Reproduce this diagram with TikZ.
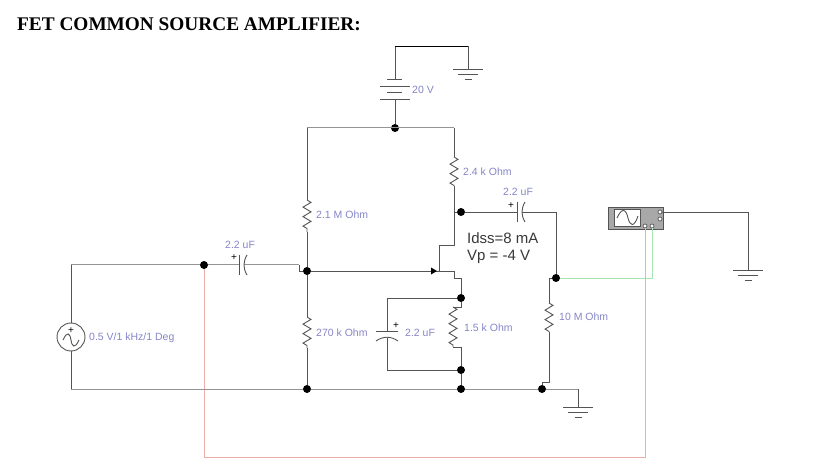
\documentclass[tikz,border=0pt]{standalone}
\usepackage{fontspec}
\setmainfont{Liberation Sans}
\newfontfamily\titlefont{Liberation Serif}
\usetikzlibrary{decorations.pathmorphing}
\definecolor{WireColor}{rgb}{0.33,0.33,0.33}
\definecolor{SoftColor}{rgb}{0.58,0.58,0.58}
\definecolor{LabelColor}{rgb}{0.52,0.52,0.78}
\definecolor{NoteColor}{rgb}{0.22,0.22,0.22}
\definecolor{ProbeRed}{rgb}{0.93,0.68,0.66}
\definecolor{ProbeGreen}{rgb}{0.66,0.90,0.70}
\definecolor{ScopeColor}{rgb}{0.66,0.66,0.66}
\tikzstyle{wire}=[draw=WireColor, line width=0.9pt]
\tikzstyle{softwire}=[draw=SoftColor, line width=1pt]
\tikzstyle{resistor}=[wire, decorate, decoration={zigzag, amplitude=4pt, segment length=9.5pt}]
\tikzstyle{dot}=[circle, fill=black, inner sep=0pt, minimum size=8pt]
\tikzstyle{port}=[circle, draw=WireColor, fill=white, inner sep=0pt, minimum size=4pt, line width=0.7pt]
\tikzstyle{value}=[anchor=west, inner sep=0pt, text=LabelColor, font=\fontsize{10.5}{12}\selectfont]
\tikzstyle{note}=[anchor=west, inner sep=0pt, text=NoteColor, font=\fontsize{15}{17}\selectfont]
\tikzset{gnd/.pic={
    \draw[wire] (-15,0) -- (15,0);
    \draw[wire] (-10,5) -- (10,5);
    \draw[wire] (-3.5,10) -- (3.5,10);
}}

\begin{document}
\begin{tikzpicture}[x=1pt, y=-1pt]
    \useasboundingbox (0,0) rectangle (816,462);

    \node at (17,24) (title) [anchor=west, inner sep=0pt, font=\titlefont\bfseries\fontsize{19.3}{21}\selectfont] {FET COMMON SOURCE AMPLIFIER:};

    % junctions
    \node at (395, 128) (top)      [dot] {};
    \node at (204, 265) (inp)      [dot] {};
    \node at (307, 271) (gate)     [dot] {};
    \node at (307, 389) (gnd_a)    [dot] {};
    \node at (461, 212) (drain)    [dot] {};
    \node at (461, 298) (source)   [dot] {};
    \node at (461, 370) (bypass)   [dot] {};
    \node at (461, 389) (gnd_b)    [dot] {};
    \node at (542, 389) (gnd_c)    [dot] {};
    \node at (556, 278) (out)      [dot] {};

    % corners and ends
    \coordinate (bat_top)  at (395,  46);
    \coordinate (gnd_top)  at (468,  46);
    \coordinate (gnd_bat)  at (468,  69);
    \coordinate (bat_p)    at (395,  79);
    \coordinate (bat_n)    at (395,  99);
    \coordinate (rail_l)   at (307, 128);
    \coordinate (rail_r)   at (454, 128);
    \coordinate (rd_a)     at (454, 157);
    \coordinate (rd_b)     at (454, 186);
    \coordinate (rd_end)   at (454, 212);
    \coordinate (fet_d)    at (454, 245);
    \coordinate (fet_top)  at (439, 245);
    \coordinate (fet_bot)  at (439, 271);
    \coordinate (fet_s)    at (454, 271);
    \coordinate (fet_s2)   at (454, 278);
    \coordinate (fet_s3)   at (461, 278);
    \coordinate (r1_a)     at (307, 200);
    \coordinate (r1_b)     at (307, 232);
    \coordinate (r2_a)     at (307, 317);
    \coordinate (r2_b)     at (307, 348);
    \coordinate (rs_t)     at (461, 307);
    \coordinate (rs_a)     at (453, 307);
    \coordinate (rs_b)     at (453, 347);
    \coordinate (rs_e)     at (461, 347);
    \coordinate (cs_t)     at (387, 298);
    \coordinate (cs_a)     at (387, 331);
    \coordinate (cs_b)     at (387, 338);
    \coordinate (cs_e)     at (387, 370);
    \coordinate (ci_a)     at (239, 265);
    \coordinate (ci_b)     at (244, 265);
    \coordinate (in_jog)   at (299, 265);
    \coordinate (in_jog2)  at (299, 271);
    \coordinate (co_a)     at (517, 212);
    \coordinate (co_b)     at (522, 212);
    \coordinate (out_top)  at (556, 212);
    \coordinate (out_jog)  at (549, 278);
    \coordinate (rl_a)     at (549, 303);
    \coordinate (rl_b)     at (549, 332);
    \coordinate (rl_e)     at (549, 382);
    \coordinate (gnd_jog)  at (542, 382);
    \coordinate (src_top)  at (71, 265);
    \coordinate (src_bot)  at (71, 389);
    \coordinate (gnd_end)  at (578, 389);
    \coordinate (gnd_main) at (578, 407);
    \coordinate (sc_wire)  at (748, 212);
    \coordinate (gnd_sc)   at (748, 270);
    \coordinate (green_c)  at (652, 278);
    \coordinate (red_c)    at (645, 457);
    \coordinate (red_l)    at (204, 457);

    % source and scope
    \node at (71, 337) (src) [circle, draw=WireColor, line width=0.9pt, fill=white, inner sep=0pt, minimum size=28pt] {};
    \node at (635.5, 218) (scope) [rectangle, draw=WireColor, fill=ScopeColor, line width=0.8pt, inner sep=0pt, minimum width=55pt, minimum height=22pt] {};
    \node at (627, 217.5) (screen) [rectangle, draw=WireColor, fill=white, line width=0.7pt, inner sep=0pt, minimum width=26pt, minimum height=17pt] {};
    \node at (645, 226) (port_a) [port] {};
    \node at (652, 226) (port_b) [port] {};
    \node at (660, 212) (port_c) [port] {};
    \node at (660, 219) (port_d) [port] {};

    % probes
    \draw[draw=ProbeGreen, line width=1pt] (out) -- (green_c) -- (port_b);
    \draw[draw=ProbeRed, line width=1pt] (port_a) -- (red_c) -- (red_l) -- (inp);

    % wires
    \draw[wire] (bat_n) -- (top);
    \draw[wire] (bat_p) -- (bat_top);
    \draw[draw=black, line width=0.9pt] (bat_top) -- (gnd_top);
    \draw[wire] (gnd_top) -- (gnd_bat);
    \draw[softwire] (rail_l) -- (rail_r);
    \draw[wire] (rail_l) -- (r1_a);
    \draw[resistor] (r1_a) -- (r1_b);
    \draw[wire] (r1_b) -- (gate);
    \draw[wire] (gate) -- (r2_a);
    \draw[resistor] (r2_a) -- (r2_b);
    \draw[wire] (r2_b) -- (gnd_a);
    \draw[wire] (rail_r) -- (rd_a);
    \draw[resistor] (rd_a) -- (rd_b);
    \draw[wire] (rd_b) -- (rd_end) -- (drain);
    \draw[wire] (rd_end) -- (fet_d) -- (fet_top) -- (fet_bot);
    \draw[wire] (fet_bot) -- (fet_s) -- (fet_s2) -- (fet_s3) -- (source);
    \draw[wire] (gate) -- (fet_bot);
    \fill[black] (437,271) -- (431,267.5) -- (431,274.5) -- cycle;
    \draw[wire] (drain) -- (co_a);
    \draw[wire] (co_b) -- (out_top) -- (out);
    \draw[wire] (out) -- (out_jog) -- (rl_a);
    \draw[resistor] (rl_a) -- (rl_b);
    \draw[wire] (rl_b) -- (rl_e) -- (gnd_jog) -- (gnd_c);
    \draw[wire] (source) -- (rs_t) -- (rs_a);
    \draw[resistor] (rs_a) -- (rs_b);
    \draw[wire] (rs_b) -- (rs_e) -- (bypass);
    \draw[wire] (bypass) -- (gnd_b);
    \draw[wire] (source) -- (cs_t) -- (cs_a);
    \draw[wire] (cs_b) -- (cs_e) -- (bypass);
    \draw[softwire] (src_top) -- (inp);
    \draw[softwire] (inp) -- (ci_a);
    \draw[softwire] (ci_b) -- (in_jog);
    \draw[wire] (in_jog) -- (in_jog2) -- (gate);
    \draw[wire] (src_top) -- (src);
    \draw[wire] (src) -- (src_bot);
    \draw[softwire] (src_bot) -- (gnd_a);
    \draw[softwire] (gnd_a) -- (gnd_b);
    \draw[softwire] (gnd_b) -- (gnd_c);
    \draw[softwire] (gnd_c) -- (gnd_end);
    \draw[wire] (gnd_end) -- (gnd_main);
    \draw[wire] (port_c) -- (sc_wire) -- (gnd_sc);

    % battery plates
    \draw[wire] (387,  79) -- (402,  79);
    \draw[wire] (380,  86) -- (410,  86);
    \draw[wire] (387,  92) -- (402,  92);
    \draw[wire] (380,  99) -- (410,  99);

    % capacitor plates
    \draw[wire] (ci_a) ++(0,-10) -- ++(0,20);
    \draw[wire] (247,255) .. controls (243,262) and (243,268) .. (247,275);
    \draw[wire] (co_a) ++(0,-10) -- ++(0,20);
    \draw[wire] (525,202) .. controls (521,209) and (521,215) .. (525,222);
    \draw[wire] (cs_a) ++(-11,0) -- ++(22,0);
    \draw[wire] (376,341) .. controls (383,336) and (391,336) .. (398,341);

    % symbols inside the source and scope
    \draw[wire] (63,340) .. controls (67,331) and (70,333) .. (71,340) .. controls (72,347) and (75,349) .. (79,340);
    \draw[wire] (617,218) .. controls (622,207) and (626,209) .. (628,218) .. controls (630,226) and (634,228) .. (638,216);

    % grounds
    \pic at (gnd_bat)  {gnd};
    \pic at (gnd_main) {gnd};
    \pic at (gnd_sc)   {gnd};

    % labels
    \node at (234, 258) (plus_in)   [inner sep=0pt, font=\fontsize{10}{10}\selectfont] {+};
    \node at (511, 206) (plus_out)  [inner sep=0pt, font=\fontsize{10}{10}\selectfont] {+};
    \node at (396, 326) (plus_by)   [inner sep=0pt, font=\fontsize{10}{10}\selectfont] {+};
    \node at (71, 331)  (plus_src)  [inner sep=0pt, font=\fontsize{10}{10}\selectfont] {+};
    \node at (412,  90) (lab_bat)   [value] {20 V};
    \node at (225, 245) (lab_ci)    [value] {2.2 uF};
    \node at (89,  338) (lab_src)   [value] {0.5 V/1 kHz/1 Deg};
    \node at (316, 215) (lab_r1)    [value] {2.1 M Ohm};
    \node at (316, 333) (lab_r2)    [value] {270 k Ohm};
    \node at (463, 172) (lab_rd)    [value] {2.4 k Ohm};
    \node at (503, 192) (lab_co)    [value] {2.2 uF};
    \node at (405, 333) (lab_cs)    [value] {2.2 uF};
    \node at (464, 328) (lab_rs)    [value] {1.5 k Ohm};
    \node at (559, 317) (lab_rl)    [value] {10 M Ohm};
    \node at (467, 238) (lab_idss)  [note]  {Idss=8 mA};
    \node at (467, 257) (lab_vp)    [note]  {Vp = -4 V};
\end{tikzpicture}
\end{document}
